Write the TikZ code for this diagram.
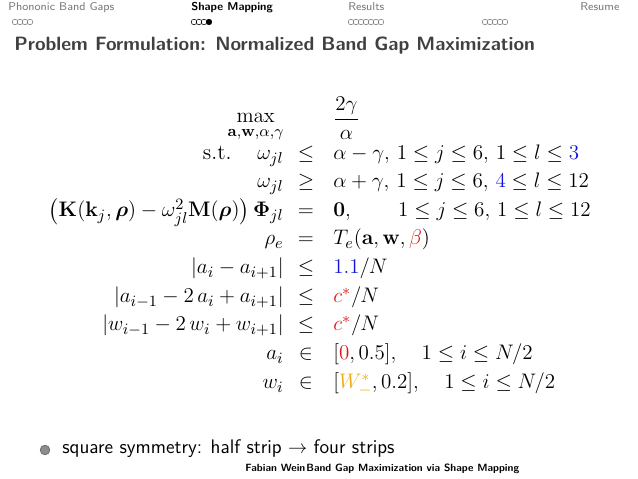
\documentclass[tikz,border=0pt]{standalone}
\usepackage{amsmath,amssymb,bm}
\definecolor{hgray}{RGB}{120,120,120}
\definecolor{tgray}{RGB}{64,64,64}
\definecolor{mblue}{RGB}{20,20,220}
\definecolor{mred}{RGB}{220,20,20}
\definecolor{morange}{RGB}{240,170,20}
\tikzset{
 lhs/.style={anchor=base east,inner sep=0pt,font=\fontsize{12.5}{14}\selectfont},
 rel/.style={anchor=base,inner sep=0pt,font=\fontsize{12.5}{14}\selectfont},
 rhs/.style={anchor=base west,inner sep=0pt,font=\fontsize{12.5}{14}\selectfont},
 hdr/.style={anchor=base west,inner sep=0pt,font=\sffamily\fontsize{6.5}{8}\selectfont,text=hgray},
 dot/.style={circle,draw=hgray,line width=0.3pt,inner sep=0pt,minimum size=3.2pt},
 foot/.style={anchor=base west,inner sep=0pt,font=\sffamily\bfseries\fontsize{6}{7}\selectfont},
}
\begin{document}
\begin{tikzpicture}[x=0.02006cm,y=-0.02006cm]
\useasboundingbox (0,0) rectangle (638,479);
% header
\node[hdr] (h1) at (8,11) {Phononic Band Gaps};
\node[hdr,text=black,font=\sffamily\bfseries\fontsize{6.5}{8}\selectfont] (h2) at (191,11) {Shape Mapping};
\node[hdr] (h3) at (348,11) {Results};
\node[hdr] (h4) at (580,11) {Resume};
\foreach \i in {0,...,3} \node[dot] (a\i) at (15+5*\i,22) {};
\foreach \i in {0,...,2} \node[dot,draw=black] (b\i) at (194+5*\i,22) {};
\node[dot,fill=black,draw=black] (b3) at (209,22) {};
\foreach \i in {0,...,6} \node[dot] (c\i) at (351+5*\i,22) {};
\foreach \i in {0,...,4} \node[dot] (d\i) at (485+5*\i,22) {};
% title
\node[anchor=base west,inner sep=0pt,font=\sffamily\bfseries\fontsize{11}{13}\selectfont,text=tgray] (title) at (14,51) {Problem Formulation: Normalized Band Gap Maximization};
% equations
\node[lhs] (l0) at (284,123) {$\displaystyle\max_{\mathbf a,\mathbf w,\alpha,\gamma}$};
\node[rhs] (r0) at (333,125) {$\displaystyle\frac{2\gamma}{\alpha}$};
\node[lhs] (st) at (232,160) {s.t.};
\node[lhs] (l1) at (284,160) {$\omega_{jl}$};
\node[rel] (e1) at (306,160) {$\le$};
\node[rhs] (r1) at (333,160) {$\alpha-\gamma,\,1\le j\le 6,\,1\le l\le \textcolor{mblue}{3}$};
\node[lhs] (l2) at (284,188) {$\omega_{jl}$};
\node[rel] (e2) at (306,188) {$\ge$};
\node[rhs] (r2) at (333,188) {$\alpha+\gamma,\,1\le j\le 6,\,\textcolor{mblue}{4}\le l\le 12$};
\node[lhs] (l3) at (284,217) {$\bigl(\mathbf K(\mathbf k_j,\bm\rho)-\omega_{jl}^2\mathbf M(\bm\rho)\bigr)\,\bm\Phi_{jl}$};
\node[rel] (e3) at (306,217) {$=$};
\node[rhs] (r3) at (333,217) {$\mathbf 0,\qquad 1\le j\le 6,\,1\le l\le 12$};
\node[lhs] (l4) at (284,245) {$\rho_e$};
\node[rel] (e4) at (306,245) {$=$};
\node[rhs] (r4) at (333,245) {$T_e(\mathbf a,\mathbf w,\textcolor{mred}{\beta})$};
\node[lhs] (l5) at (284,274) {$|a_i-a_{i+1}|$};
\node[rel] (e5) at (306,274) {$\le$};
\node[rhs] (r5) at (333,274) {$\textcolor{mblue}{1.1}/N$};
\node[lhs] (l6) at (284,303) {$|a_{i-1}-2\,a_i+a_{i+1}|$};
\node[rel] (e6) at (306,303) {$\le$};
\node[rhs] (r6) at (333,303) {$\textcolor{mred}{c^*}/N$};
\node[lhs] (l7) at (284,331) {$|w_{i-1}-2\,w_i+w_{i+1}|$};
\node[rel] (e7) at (306,331) {$\le$};
\node[rhs] (r7) at (333,331) {$\textcolor{mred}{c^*}/N$};
\node[lhs] (l8) at (284,360) {$a_i$};
\node[rel] (e8) at (306,360) {$\in$};
\node[rhs] (r8) at (333,360) {$[\textcolor{mred}{0},0.5],\quad 1\le i\le N/2$};
\node[lhs] (l9) at (284,389) {$w_i$};
\node[rel] (e9) at (306,389) {$\in$};
\node[rhs] (r9) at (333,389) {$[\textcolor{morange}{W_-^*},0.2],\quad 1\le i\le N/2$};
% bullet
\node[circle,draw=black!60,fill=black!45,inner sep=0pt,minimum size=5.5pt] (bul) at (45,450) {};
\node[anchor=base west,inner sep=0pt,font=\sffamily\fontsize{11.2}{13}\selectfont] (btxt) at (62,454) {square symmetry: half strip $\rightarrow$ four strips};
% footer
\node[foot] (f1) at (245,472) {Fabian Wein};
\node[foot] (f2) at (306,472) {Band Gap Maximization via Shape Mapping};
\end{tikzpicture}
\end{document}
